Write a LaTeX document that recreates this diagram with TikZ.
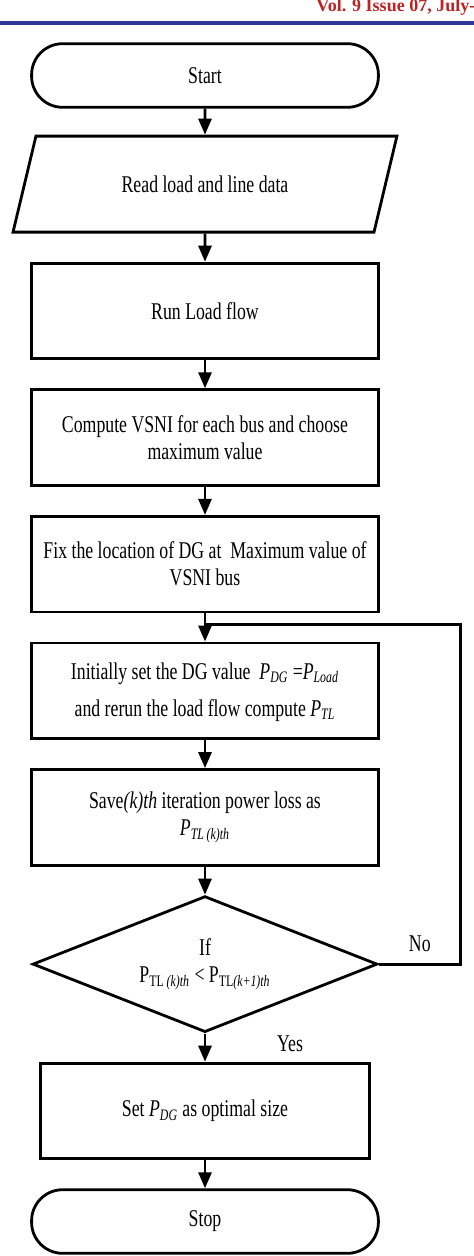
\documentclass[tikz,border=0pt]{standalone}
\usepackage{fontspec}
\setmainfont{Liberation Serif}[FakeStretch=0.74]
\newfontfamily\headfont{Liberation Serif}
\usepackage{tikz}
\usetikzlibrary{arrows.meta,shapes,positioning}
\definecolor{headred}{RGB}{190,35,35}
\definecolor{headblue}{RGB}{50,55,150}
\newcommand{\pvar}[1]{\textit{P\textsubscript{#1}}}

\begin{document}
\begin{tikzpicture}[
        node distance=14.1pt and 15pt,
        >={Triangle[length=8pt,width=6.5pt]},
        line width=1.4pt,
        every node/.style={font=\fontsize{12pt}{13.5pt}\selectfont},
        box/.style={draw, align=center, minimum width=173.4pt, minimum height=47.8pt},
        term/.style={box, rounded corners=15.5pt, minimum height=31.8pt},
        io/.style={draw, trapezium, trapezium left angle=68, trapezium right angle=112, trapezium stretches=true, minimum width=192pt, minimum height=48pt, align=center},
        decision/.style={draw, diamond, aspect=2.5, minimum width=172.4pt, minimum height=68pt, inner sep=0pt, align=center}
    ]

  \clip (0,0) rectangle (237pt,-628pt);

  % Header
  \node[font=\headfont\bfseries\fontsize{9pt}{10pt}\selectfont, text=headred, anchor=base west, inner sep=0pt] (header) at (157.5pt,-6pt) {Vol. 9 Issue 07, July-};
  \draw[headblue, line width=1.6pt] (0,-11.5pt) -- (237pt,-11.5pt);

  % Nodes
  \node[term] (start) at (102.5pt,-37.75pt) {Start};
  \node[io, below=13pt of start] (read) {Read load and line data};
  \node[box, below=of read] (run) {Run Load flow};
  \node[box, below=of run] (vsni) {Compute VSNI for each bus and choose\\maximum value};
  \node[box, below=of vsni] (fix) {Fix the location of DG at~ Maximum value of\\VSNI bus};
  \node[box, below=of fix] (init) {\\[-4pt]Initially set the DG value~ \pvar{DG} =\pvar{Load}\\[5pt]and rerun the load flow compute \pvar{TL}};
  \node[box, below=of init] (save) {Save\textit{(k)th} iteration power loss as\\\pvar{TL\,(k)th}};
  \node[decision, below=of save] (check) {If\\P\textsubscript{TL \textit{(k)th}} < P\textsubscript{TL\textit{(k+1)th}}};
  \node[box, minimum width=164.4pt, below=of check] (size) {Set \pvar{DG} as optimal size};
  \node[term, below=of size] (stop) {Stop};
  \coordinate[below=5.5pt of fix] (merge);

  \draw[->] (start) -- (read);
  \draw[->] (read) -- (run);
  \draw[->] (run) -- (vsni);
  \draw[->] (vsni) -- (fix);
  \draw[->] (fix) -- (init);
  \draw[->] (init) -- (save);
  \draw[->] (save) -- (check);
  \draw (check.east) -- node[above=2pt] (no) {No} ++(41pt,0) |- (merge);
  \draw[->] (check) -- node[pos=0.35, right=32pt] (yes) {Yes} (size);
  \draw[->] (size) -- (stop);
\end{tikzpicture}
\end{document}
